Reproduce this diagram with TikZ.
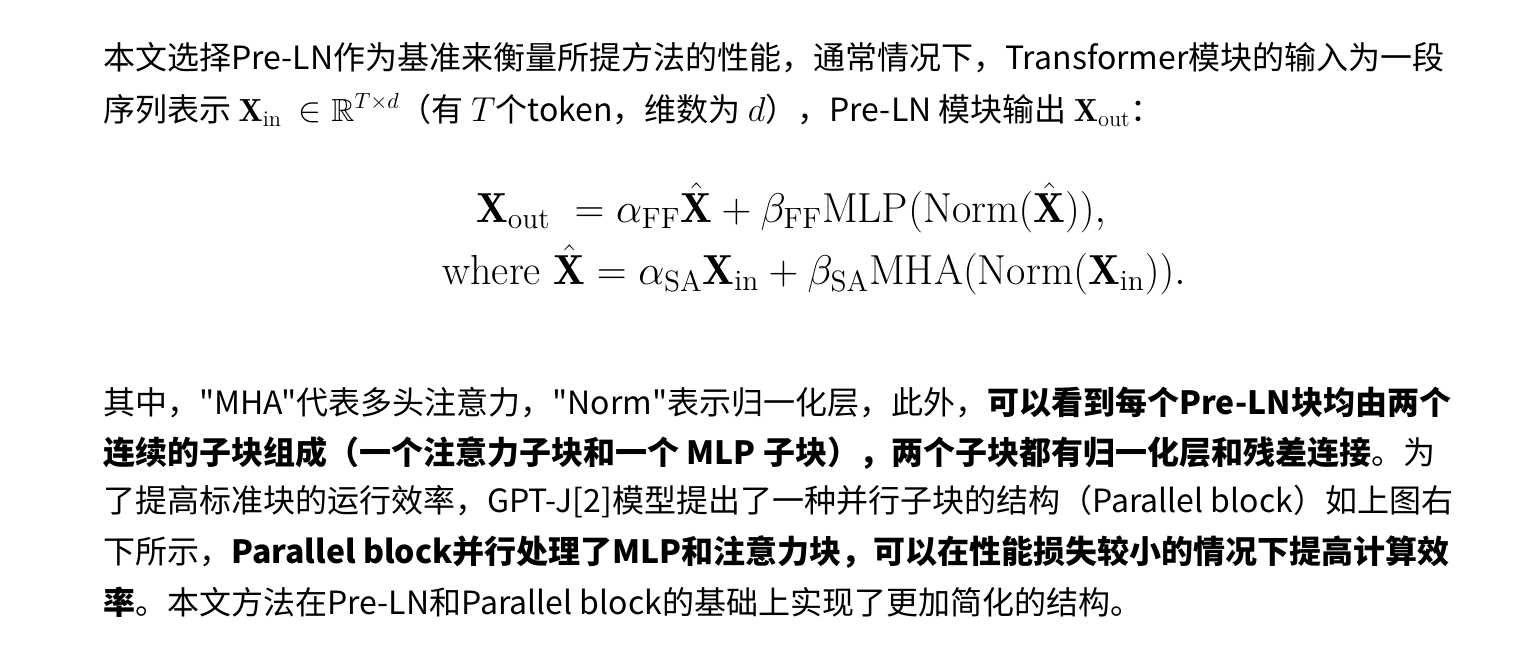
\documentclass[tikz,border=0pt]{standalone}
\usepackage{amsmath,amssymb}
\usepackage{fontspec}
\newfontfamily\cjk{Noto Sans CJK SC}
\begin{document}
\begin{tikzpicture}[x=0.5pt,y=-0.5pt,
  ln/.style={anchor=west,inner sep=0pt,font=\cjk\fontsize{16}{20}\selectfont},
  eq/.style={inner sep=0pt,font=\fontsize{21}{24}\selectfont}]
\useasboundingbox[fill=white] (0,0) rectangle (1536,658);
\node[ln] (l1) at (103,58) {本文选择Pre-LN作为基准来衡量所提方法的性能，通常情况下，Transformer模块的输入为一段};
\node[ln] (l2) at (103,110) {序列表示 $\mathbf{X}_{\mathrm{in}}\ \in\mathbb{R}^{T\times d}$（有 $T$个token，维数为 $d$），Pre-LN 模块输出 $\mathbf{X}_{\mathrm{out}}$：};
\node[eq] (e1) at (791,208) {$\mathbf{X}_{\mathrm{out}}\ =\alpha_{\mathrm{FF}}\hat{\mathbf{X}}+\beta_{\mathrm{FF}}\mathrm{MLP}(\mathrm{Norm}(\hat{\mathbf{X}})),$};
\node[eq] (e2) at (814,270) {$\text{where }\hat{\mathbf{X}}=\alpha_{\mathrm{SA}}\mathbf{X}_{\mathrm{in}}+\beta_{\mathrm{SA}}\mathrm{MHA}(\mathrm{Norm}(\mathbf{X}_{\mathrm{in}})).$};
\node[ln] (p1) at (103,402) {其中，"MHA"代表多头注意力，"Norm"表示归一化层，此外，\textbf{可以看到每个Pre-LN块均由两个}};
\node[ln] (p2) at (103,453) {\textbf{连续的子块组成（一个注意力子块和一个 MLP 子块），两个子块都有归一化层和残差连接}。为};
\node[ln] (p3) at (103,502) {了提高标准块的运行效率，GPT-J[2]模型提出了一种并行子块的结构（Parallel block）如上图右};
\node[ln] (p4) at (103,552) {下所示，\textbf{Parallel block并行处理了MLP和注意力块，可以在性能损失较小的情况下提高计算效}};
\node[ln] (p5) at (103,602) {\textbf{率}。本文方法在Pre-LN和Parallel block的基础上实现了更加简化的结构。};
\end{tikzpicture}
\end{document}
